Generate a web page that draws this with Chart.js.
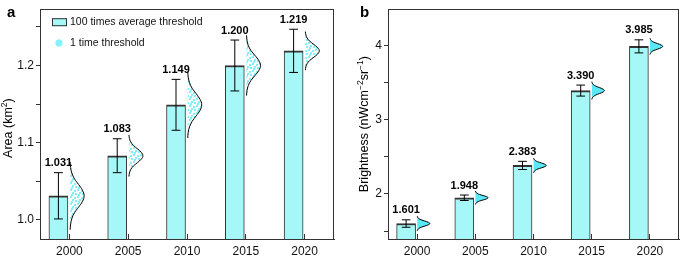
<!DOCTYPE html>
<html><head><meta charset="utf-8">
<script src="https://cdn.jsdelivr.net/npm/chart.js@4/dist/chart.umd.min.js"></script>
<style>
html,body{margin:0;padding:0;background:#fff;}
body{width:685px;height:257px;position:relative;overflow:hidden;}
.box{position:absolute;top:0;height:257px;width:342px;}
#boxA{left:0;}
#boxB{left:343px;}
</style></head><body>
<div class="box" id="boxA"><canvas id="ca" width="342" height="257"></canvas></div>
<div class="box" id="boxB"><canvas id="cb" width="342" height="257"></canvas></div>
<script>
// ---- data ----
const years = ['2000', '2005', '2010', '2015', '2020'];
const areaMean = [1.031, 1.083, 1.149, 1.200, 1.219];
const areaErr = [0.030, 0.022, 0.033, 0.033, 0.028];
const areaSpread = [0.044, 0.027, 0.043, 0.039, 0.025];   // half-height of the 1-time-threshold distribution
const brightMean = [1.601, 1.948, 2.383, 3.390, 3.985];
const brightErr = [0.050, 0.037, 0.055, 0.074, 0.088];
const brightSpread = [0.10, 0.09, 0.10, 0.12, 0.11];
const areaTickValues = [1.0, 1.1, 1.2];
const brightTickValues = [2, 3, 4];
// distribution outline (relative density, top to bottom)
const curveShape = [0.01, 0.045, 0.135, 0.32, 0.61, 0.88, 1, 0.88, 0.61, 0.32, 0.135, 0.045, 0.01];

const FONT = "'Liberation Sans', Arial, sans-serif";
Chart.defaults.font.family = FONT;
Chart.defaults.color = '#111';

const BAR_COLOR = 'rgb(166,248,248)';
const AXIS_COLOR = '#333';

function dotPattern(canvas, color) {
  const t = document.createElement('canvas');
  t.width = 7; t.height = 7;
  const g = t.getContext('2d');
  g.fillStyle = color;
  [[0,0],[4,1],[2,3],[5,4],[1,5]].forEach(([x, y]) => g.fillRect(x, y, 2, 2));
  return canvas.getContext('2d').createPattern(t, 'repeat');
}

function buildChart(canvasId, p) {
  const canvas = document.getElementById(canvasId);
  const barOffset = p.barOffset, cap = 0.075;
  const datasets = [];
  datasets.push({
    type: 'bar', order: 3,
    data: p.mean.map((v, i) => ({x: i + barOffset, y: v})),
    backgroundColor: BAR_COLOR, borderColor: '#333',
    borderWidth: {top: 2, left: 1, right: 1, bottom: 0},
    borderSkipped: 'start', barThickness: 19
  });
  const eb = [];
  p.mean.forEach((v, i) => {
    const bx = i + barOffset, lo = v - p.err[i], hi = v + p.err[i];
    eb.push({x: bx, y: lo}, {x: bx, y: hi}, {x: bx, y: null},
            {x: bx - cap, y: hi}, {x: bx + cap, y: hi}, {x: bx, y: null},
            {x: bx - cap, y: lo}, {x: bx + cap, y: lo}, {x: bx, y: null});
  });
  datasets.push({type: 'line', order: 0, data: eb, borderColor: '#000', borderWidth: 1,
    pointRadius: 0, spanGaps: false, fill: false, tension: 0});
  const fillStyle = p.dots ? dotPattern(canvas, 'rgb(130,240,250)') : 'rgb(90,232,246)';
  p.mean.forEach((v, i) => {
    const n = curveShape.length;
    const pts = curveShape.map((d, k) => ({
      x: i + p.curveBase + p.curveWidth * d,
      y: v + p.spread[i] * (1 - 2 * k / (n - 1))
    }));
    datasets.push({type: 'line', order: 1, data: pts, borderColor: '#000', borderWidth: 1,
      pointRadius: 0, fill: 'shape', backgroundColor: fillStyle, tension: 0.4});
  });

  const overlay = {
    id: 'overlay',
    afterDraw(chart) {
      const ctx = chart.ctx, a = chart.chartArea;
      const xs = chart.scales.x, ys = chart.scales.y;
      ctx.save();
      // frame
      ctx.strokeStyle = AXIS_COLOR; ctx.lineWidth = 1;
      ctx.strokeRect(Math.round(a.left) + 0.5, Math.round(a.top) + 0.5,
                     Math.round(a.right - a.left) - 1, Math.round(a.bottom - a.top));
      // value labels
      ctx.fillStyle = '#000';
      ctx.font = 'bold 11px ' + FONT;
      ctx.textAlign = 'center'; ctx.textBaseline = 'bottom';
      p.mean.forEach((v, i) => {
        ctx.fillText(v.toFixed(3), xs.getPixelForValue(i + barOffset),
                     ys.getPixelForValue(v + p.err[i]) - 4);
      });
      // panel letter
      ctx.font = 'bold 15px ' + FONT;
      ctx.textAlign = 'left'; ctx.textBaseline = 'alphabetic';
      ctx.fillText(p.letter, p.letterX, 17);
      // y axis title with superscripts
      const size = 12.5, sup = 8.5;
      ctx.translate(p.titleX, (a.top + a.bottom) / 2 + p.titleDy);
      ctx.rotate(-Math.PI / 2);
      let total = 0;
      p.title.forEach(([t, s]) => { ctx.font = (s ? sup : size) + 'px ' + FONT; total += ctx.measureText(t).width; });
      let x = -total / 2;
      ctx.textBaseline = 'middle'; ctx.textAlign = 'left';
      p.title.forEach(([t, s]) => {
        ctx.font = (s ? sup : size) + 'px ' + FONT;
        ctx.fillText(t, x, s ? -4.5 : 0);
        x += ctx.measureText(t).width;
      });
      ctx.restore();
      // legend
      if (p.legend) {
        ctx.save();
        const L = a.left, T = a.top;
        ctx.fillStyle = BAR_COLOR;
        ctx.fillRect(L + 12, T + 9, 15, 8);
        ctx.strokeStyle = '#333'; ctx.lineWidth = 1;
        ctx.strokeRect(L + 12.5, T + 9.5, 14, 7);
        ctx.fillStyle = 'rgb(140,240,250)';
        ctx.beginPath(); ctx.arc(L + 19, T + 33.7, 3.6, 0, Math.PI * 2); ctx.fill();
        ctx.fillStyle = '#111';
        ctx.font = '10.5px ' + FONT;
        ctx.textAlign = 'left'; ctx.textBaseline = 'middle';
        ctx.fillText('100 times average threshold', L + 30, T + 13);
        ctx.fillText('1 time threshold', L + 30, T + 34);
        ctx.restore();
      }
    }
  };

  return new Chart(canvas, {
    type: 'bar',
    data: {datasets},
    plugins: [overlay],
    options: {
      responsive: false, animation: false, devicePixelRatio: 1,
      layout: {padding: {top: 3, right: p.padRight, bottom: 0, left: 0}},
      plugins: {legend: {display: false}, tooltip: {enabled: false}},
      scales: {
        x: {
          type: 'linear', min: -0.5, max: 4.5, offset: false,
          grid: {offset: false, drawOnChartArea: false, drawTicks: true, tickLength: -5, color: AXIS_COLOR},
          border: {display: true, color: AXIS_COLOR, width: 1},
          afterBuildTicks: (s) => { s.ticks = years.map((_, i) => ({value: i})); },
          ticks: {autoSkip: false, maxRotation: 0, padding: 10,
                  color: '#111', font: {size: 12},
                  callback: (v) => years[Math.round(v)] ?? ''},
          afterFit: (s) => { s.height = 18; }
        },
        y: {
          type: 'linear', min: p.yMin, max: p.yMax, beginAtZero: false,
          grid: {drawOnChartArea: false, drawTicks: true, tickLength: 4, color: AXIS_COLOR},
          border: {display: true, color: AXIS_COLOR, width: 1},
          ticks: {stepSize: p.yStep, includeBounds: false, autoSkip: false, padding: 2,
                  color: '#111', font: {size: 12},
                  callback: (v) => {
                    const hit = p.tickValues.find(t => Math.abs(t - v) < 1e-6);
                    return hit === undefined ? '' : p.tickFmt(hit);
                  }},
          afterFit: (s) => { s.width = p.axisWidth; }
        }
      }
    }
  });
}

buildChart('ca', {
  mean: areaMean, err: areaErr, spread: areaSpread,
  yMin: 0.975, yMax: 1.273, yStep: 0.05, tickValues: areaTickValues, tickFmt: (v) => v.toFixed(1),
  barOffset: -0.187, curveBase: 0.01, curveWidth: 0.24, dots: true,
  axisWidth: 40, padRight: 8, letter: 'a', letterX: 7,
  title: [['Area (km', false], ['2', true], [')', false]], titleX: 9, titleDy: 4, legend: true
});
buildChart('cb', {
  mean: brightMean, err: brightErr, spread: brightSpread,
  yMin: 1.393, yMax: 4.485, yStep: 0.5, tickValues: brightTickValues, tickFmt: (v) => String(v),
  barOffset: -0.189, curveBase: 0.0, curveWidth: 0.22, dots: false,
  axisWidth: 45, padRight: 6, letter: 'b', letterX: 17,
  title: [['Brightness (nWcm', false], ['\u22122', true], ['sr', false], ['\u22121', true], [')', false]],
  titleX: 22, titleDy: 0, legend: false
});
</script>
</body></html>
